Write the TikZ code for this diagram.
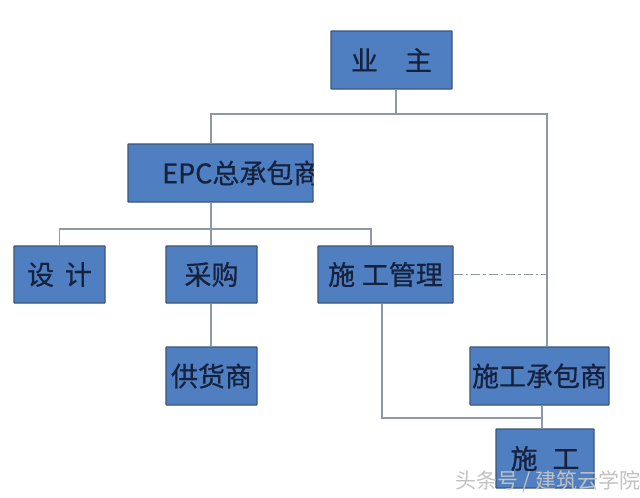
\documentclass[tikz,border=0pt]{standalone}
\usepackage{fontspec}
\newfontfamily\cjk[FakeBold=0.6]{Noto Sans CJK SC}
\newfontfamily\cjkwm{Noto Sans CJK SC}
\begin{document}
\begin{tikzpicture}[x=1pt,y=-1pt,
  box/.style={draw=boxline, fill=boxfill, line width=1.3pt, inner sep=0pt, rounded corners=0.6pt,
              text=txtcol, font=\cjk\fontsize{27}{27}\selectfont},
  conn/.style={draw=linecol, line width=1.3pt},
  dashdotline/.style={dash pattern=on 9pt off 3pt on 2.5pt off 3pt}]
\definecolor{boxfill}{HTML}{4F7FC0}
\definecolor{boxline}{HTML}{3A5679}
\definecolor{txtcol}{HTML}{16213E}
\definecolor{linecol}{HTML}{8E99A6}
\definecolor{wmcol}{HTML}{C2C2C2}
\useasboundingbox[fill=white] (0,0) rectangle (640,498);

% boxes
\node[box, minimum width=121pt, minimum height=58pt] (owner) at (391.5,60) {业　主};
\node[box, minimum width=185pt, minimum height=58pt] (epc) at (220.5,173) {};
\node[box, minimum width=91pt, minimum height=57pt] (design) at (59.5,274.5) {设\hspace{0.4em}计};
\node[box, minimum width=91pt, minimum height=57pt] (purchase) at (211.5,274.5) {采购};
\node[box, minimum width=135pt, minimum height=57pt] (cm) at (385.5,274.5) {施\hspace{0.25em}工管理};
\node[box, minimum width=91pt, minimum height=58pt] (supplier) at (211.5,376) {供货商};
\node[box, minimum width=139pt, minimum height=58pt] (cc) at (539.5,376) {施工承包商};
\node[box, minimum width=98pt, minimum height=59pt] (work) at (545,458.5) {施\hspace{0.55em}工};

% clipped EPC text
\begin{scope}
  \clip (epc.south west) rectangle (epc.north east);
  \node[anchor=west, inner sep=0pt, text=txtcol, font=\cjk\fontsize{27}{27}\selectfont] (epct) at (162,173) {EPC总承包商};
\end{scope}

% x / y positions of the connector runs
\coordinate (xO) at (396,0);
\coordinate (xA) at (211,0);
\coordinate (xR) at (547,0);
\coordinate (xM) at (371,0);
\coordinate (xCM) at (382,0);
\coordinate (xCC) at (542,0);
\coordinate (yT) at (0,114);
\coordinate (yM) at (0,229);
\coordinate (yB) at (0,418);

% connectors
\draw[conn] (owner.south -| xO) -- (yT -| xO);
\draw[conn] (epc.north -| xA) |- (yT -| xR) -- (cc.north -| xR);
\draw[conn] (epc.south -| xA) -- (purchase.north -| xA);
\draw[conn] (design.north) |- (yM -| xM) -- (cm.north -| xM);
\draw[conn] (purchase.south -| xA) -- (supplier.north -| xA);
\draw[conn, dashdotline] (cm.east) -- (cm.east -| xR);
\draw[conn] (cm.south -| xCM) |- (yB -| xCC);
\draw[conn] (cc.south -| xCC) -- (work.north -| xCC);

% watermark
\node[text=wmcol, font=\cjkwm\fontsize{21}{21}\selectfont, inner sep=0pt] (wm) at (548,481) {头条号 / 建筑云学院};
\end{tikzpicture}
\end{document}
